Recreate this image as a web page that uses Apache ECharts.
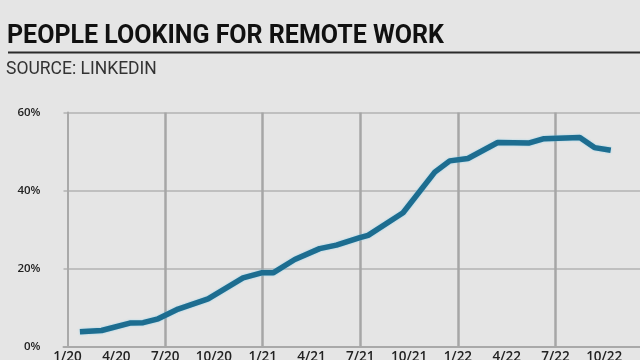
<!DOCTYPE html>
<html>
<head>
<meta charset="utf-8">
<script src="https://cdn.jsdelivr.net/npm/echarts@6/dist/echarts.min.js"></script>
<style>
html,body{margin:0;padding:0;background:#e5e5e5;}
#c{width:640px;height:360px;}
</style>
</head>
<body>
<div id="c"></div>
<script>
// Months since Jan 2020 where the line bends, and the share (%) at each bend
const monthPos = [0.76, 2.09, 3.83, 4.65, 5.57, 6.8, 8.64, 10.79, 11.92, 12.64, 13.97, 15.5, 16.53, 17.97, 18.48, 20.63, 22.58, 23.5, 24.62, 26.45, 28.4, 29.3, 31.5, 32.4, 33.4];
const share = [3.8, 4.1, 6.0, 6.1, 7.1, 9.6, 12.2, 17.6, 18.9, 18.9, 22.3, 25.1, 26.0, 27.9, 28.5, 34.3, 44.7, 47.6, 48.2, 52.3, 52.2, 53.3, 53.6, 51.0, 50.3];
const tickLabels = ['1/20','4/20','7/20','10/20','1/21','4/21','7/21','10/21','1/22','4/22','7/22','10/22'];
const tickMonths = [0,3,6,9,12,15,18,21,24,27,30,33];
const majorMonths = [6,12,18,24,30];

const chart = echarts.init(document.getElementById('c'));
chart.setOption({
  backgroundColor: '#e5e5e5',
  animation: false,
  graphic: [
    {type:'text', left: 7, top: 24, style:{text:'PEOPLE LOOKING FOR REMOTE WORK', font:'bold 25px Roboto', fill:'#111'}},
    {type:'rect', shape:{x:8, y:51.5, width:640, height:2}, style:{fill:'#2a2a2a'}},
    {type:'text', left: 6, top: 61, style:{text:'SOURCE: LINKEDIN', font:'17.5px Roboto', fill:'#333'}}
  ],
  grid: {left: 63.5, right: 0, top: 112.5, bottom: 13.5, containLabel: false, outerBoundsMode: 'none'},
  xAxis: {
    type: 'value', min: -0.25, max: 35.2,
    splitLine: {show: false},
    axisTick: {show: false},
    axisLine: {show: true, lineStyle: {color: '#a9a9a9', width: 2}},
    axisLabel: {
      customValues: tickMonths,
      formatter: v => tickLabels[tickMonths.indexOf(Math.round(v))],
      color: '#222', fontSize: 13.5, fontFamily: 'Open Sans', fontWeight: 600, margin: 4
    }
  },
  yAxis: {
    type: 'value', min: 0, max: 60, interval: 20,
    axisLine: {show: true, lineStyle: {color: '#a9a9a9', width: 2}},
    axisTick: {show: false},
    splitLine: {lineStyle: {color: '#b2b2b2', width: 1.5}},
    axisLabel: {formatter: '{value}%', color: '#222', fontSize: 11.5, fontFamily: 'Open Sans', fontWeight: 600, margin: 23}
  },
  series: [
    {
      type: 'line', data: [], z: 1, silent: true,
      markLine: {
        silent: true, symbol: 'none', label: {show: false},
        lineStyle: {color: '#a6a6a6', width: 2.5, type: 'solid'},
        data: majorMonths.map(m => ({xAxis: m}))
      }
    },
    {
      type: 'line', z: 5,
      data: monthPos.map((m, i) => [m, share[i]]),
      showSymbol: false,
      lineStyle: {color: '#1d6d90', width: 5.5, shadowColor: 'rgba(110,200,235,0.7)', shadowBlur: 2},
      smooth: false
    }
  ]
});
</script>
</body>
</html>
